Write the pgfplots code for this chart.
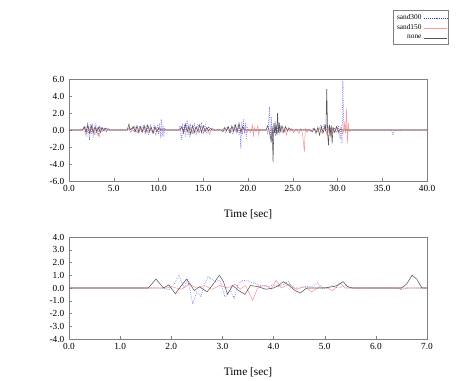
\documentclass[border=0pt]{standalone}
\usepackage{pgfplots}
\pgfplotsset{compat=1.18}
\usepackage{fontspec}
\setmainfont{Liberation Serif}
\definecolor{sthree}{RGB}{50,50,235}
\definecolor{sone}{RGB}{250,150,150}
\definecolor{nonec}{RGB}{85,85,85}
\begin{document}
\begin{tikzpicture}
\path[use as bounding box] (0pt,0pt) rectangle (355.5pt,-285.75pt);
\pgfplotsset{myax/.style={scale only axis, width=268.5pt, height=76.5pt, anchor=south west,
  axis line style={gray}, tick align=inside, xtick pos=bottom, ytick pos=left,
  major tick length=2.5pt, tick style={gray},
  tick label style={font=\fontsize{7}{8}\selectfont},
  label style={font=\fontsize{8.5}{9}\selectfont},
  /pgf/number format/assume math mode=true,
  xticklabel style={/pgf/number format/fixed, /pgf/number format/fixed zerofill, /pgf/number format/precision=1},
  yticklabel style={/pgf/number format/fixed, /pgf/number format/fixed zerofill, /pgf/number format/precision=1},
  xlabel={Time [sec]}, xlabel style={yshift=-6.5pt},
  every axis plot/.append style={line width=0.4pt}}}
\begin{axis}[myax, at={(51.75pt,-135.75pt)},
  xmin=0, xmax=40, ymin=-6, ymax=6,
  xtick={0,5,...,40}, ytick={-6,-4,...,6},
  legend style={at={(1.0615,1.676)}, anchor=north east, draw=gray, font=\fontsize{5.5}{6}\selectfont,
    legend plot pos=right, legend cell align=right, row sep=-1.5pt, inner sep=1pt}]
\addplot[sthree, densely dotted] coordinates {(0,0) (1.5,0) (1.7,0.3) (1.8,-0.4) (1.9,0.6) (2.0,-0.8) (2.1,0.9) (2.2,-0.3) (2.3,-1.2) (2.4,0.7) (2.5,-0.5) (2.6,0.8) (2.7,-0.9) (2.8,0.3) (2.9,-0.6) (3.0,0.9) (3.1,-0.4) (3.2,0.3) (3.3,-0.7) (3.4,0.5) (3.5,-0.2) (3.6,0.2) (3.8,-0.1) (4.0,0.3) (4.2,-0.2) (4.4,0.2) (4.6,0) (6.5,0) (6.7,0.2) (6.9,-0.2) (7.1,0.3) (7.3,-0.3) (7.5,0.4) (7.7,-0.4) (7.9,0.5) (8.1,-0.3) (8.3,0.6) (8.5,-0.5) (8.7,0.4) (8.9,-0.6) (9.1,0.7) (9.3,-0.4) (9.5,0.5) (9.7,-0.7) (9.9,0.6) (10.0,-0.5) (10.1,0.8) (10.2,-0.9) (10.3,1.3) (10.4,-0.8) (10.5,0.6) (10.6,-0.8) (10.7,0.2) (10.8,0) (12.3,0) (12.4,0.5) (12.5,-0.6) (12.6,-1.2) (12.7,0.8) (12.8,-0.5) (12.9,0.6) (13.0,-0.8) (13.1,0.4) (13.2,1.2) (13.3,-0.6) (13.4,0.7) (13.5,-0.9) (13.6,0.5) (13.8,-0.4) (14.0,0.8) (14.2,-0.6) (14.4,0.7) (14.6,-0.3) (14.8,0.9) (15.0,-0.5) (15.2,0.6) (15.4,-0.3) (15.6,0.4) (15.8,-0.2) (16.0,0.2) (16.3,-0.1) (16.6,0.1) (17.0,0) (17.3,0.2) (17.5,-0.3) (17.7,0.4) (17.9,-0.4) (18.1,0.3) (18.3,-0.5) (18.5,0.5) (18.7,-0.3) (18.9,0.7) (19.0,-0.6) (19.1,0.5) (19.2,-2.2) (19.3,0.9) (19.4,-0.5) (19.5,1.3) (19.6,-0.4) (19.7,0.8) (19.8,-1.0) (19.9,0.3) (20.0,0) (22.1,0) (22.2,-0.5) (22.3,1.0) (22.4,2.7) (22.5,-1.5) (22.6,1.5) (22.7,-0.8) (22.8,0.6) (22.9,-0.4) (23.0,1.0) (23.1,-0.7) (23.2,0.5) (23.3,-0.3) (23.4,0.8) (23.5,-0.5) (23.6,0.4) (23.8,-0.3) (24.0,0.3) (24.2,-0.2) (24.4,0.1) (24.6,0) (27.0,0) (27.3,0.2) (27.6,-0.2) (27.9,0.3) (28.1,0.5) (28.3,-0.3) (28.5,0.6) (28.7,-0.2) (28.9,0.4) (29.1,-0.5) (29.3,0.3) (29.5,-0.2) (29.7,0.3) (29.9,-0.2) (30.1,0.4) (30.3,-1.1) (30.4,0.6) (30.5,-1.6) (30.6,5.8) (30.7,0.3) (30.8,0) (36.0,0) (36.1,-0.2) (36.2,-0.6) (36.3,-0.1) (36.4,0) (36.6,-0.1) (36.8,0) (37.0,-0.1) (37.2,0) (40,0)};
\addlegendentry{sand300}
\addplot[sone] coordinates {(0,0) (1.6,0) (1.8,0.3) (2.0,-0.4) (2.2,0.4) (2.4,-0.3) (2.6,0.5) (2.8,-0.4) (3.0,0.3) (3.2,-0.5) (3.4,-0.8) (3.5,0.3) (3.7,-0.2) (3.9,0.2) (4.1,-0.1) (4.3,0) (6.6,0) (6.8,0.3) (7.0,-0.2) (7.3,0.4) (7.6,-0.3) (7.9,0.3) (8.2,-0.3) (8.5,0.4) (8.8,-0.3) (9.1,0.3) (9.4,-0.2) (9.7,0.3) (10.0,-0.3) (10.3,0.2) (10.6,0) (12.4,0) (12.6,0.3) (12.8,-0.3) (13.0,0.4) (13.3,-0.3) (13.6,0.3) (13.9,-0.4) (14.2,0.3) (14.5,-0.3) (14.8,0.4) (15.1,-0.2) (15.4,0.3) (15.7,-0.5) (16.0,0.2) (16.3,-0.1) (16.6,0) (17.5,0) (17.8,0.2) (18.1,-0.3) (18.4,0.3) (18.7,-0.3) (19.0,0.4) (19.3,-0.2) (19.6,0.3) (19.9,-0.3) (20.1,0.1) (20.3,-0.3) (20.5,0.6) (20.6,-0.8) (20.7,0.3) (20.9,-0.2) (21.1,0.5) (21.2,-0.6) (21.3,0.1) (21.5,0) (22.4,0) (22.6,0.3) (22.8,-0.4) (23.0,0.3) (23.3,-0.3) (23.6,0.4) (23.9,-0.3) (24.1,0.2) (24.3,-0.6) (24.5,0.3) (24.7,-0.2) (24.9,0.2) (25.1,-0.3) (25.4,0.1) (25.7,-0.4) (25.9,0.2) (26.1,-0.5) (26.3,-2.6) (26.4,0.2) (26.6,-0.3) (26.8,0.1) (27.0,-0.2) (27.2,0) (27.5,0.1) (27.8,-0.2) (28.0,0.2) (28.3,-0.4) (28.6,0.3) (28.8,-0.5) (29.0,0.3) (29.2,-0.8) (29.4,0.2) (29.6,-0.3) (29.9,0.4) (30.1,-0.4) (30.4,0.3) (30.6,-0.5) (30.8,0.8) (30.9,-0.4) (31.0,2.5) (31.1,-1.6) (31.2,0.8) (31.3,-0.2) (31.5,0) (40,0)};
\addlegendentry{sand150}
\addplot[nonec] coordinates {(0,0) (1.5,0) (1.7,0.4) (1.9,-0.3) (2.1,0.6) (2.3,-0.4) (2.5,0.5) (2.7,-0.3) (2.9,0.4) (3.1,-0.2) (3.3,0.3) (3.5,-0.3) (3.7,0.3) (3.9,-0.1) (4.1,0.2) (4.4,0) (6.5,0) (6.7,0.7) (6.8,0) (7.2,0.4) (7.4,-0.2) (7.6,0.5) (7.8,-0.3) (8.0,0.4) (8.2,-0.2) (8.4,0.5) (8.6,-0.3) (8.8,0.6) (9.0,-0.2) (9.2,0.3) (9.4,-0.4) (9.6,0.4) (9.8,-0.2) (10.0,0.2) (10.3,0) (12.4,0) (12.6,0.4) (12.8,-0.3) (13.0,0.7) (13.2,-0.2) (13.4,0.4) (13.6,-0.5) (13.8,0.5) (14.0,-0.3) (14.2,0.4) (14.4,-0.2) (14.6,0.6) (14.8,-0.3) (15.0,0.5) (15.2,-0.2) (15.4,0.3) (15.6,-0.1) (15.8,0.2) (16.0,0) (17.0,0) (17.2,-0.2) (17.4,0.3) (17.6,-0.1) (17.8,0.4) (18.0,-0.3) (18.2,0.5) (18.4,-0.2) (18.6,0.6) (18.8,-0.2) (19.0,0.8) (19.2,-0.3) (19.4,0.4) (19.6,0) (22.0,0) (22.2,0.5) (22.4,-0.3) (22.6,-1.3) (22.7,0.4) (22.8,-3.8) (22.9,0.8) (23.0,-0.4) (23.1,0.6) (23.2,-0.5) (23.3,2.0) (23.4,-0.3) (23.5,0.7) (23.6,-0.2) (23.8,0.5) (24.0,-0.3) (24.2,0.4) (24.4,-0.1) (24.6,0.2) (24.8,0) (27.0,0) (27.2,-0.2) (27.4,0.2) (27.6,-0.4) (27.8,0.3) (28.0,-0.6) (28.2,0.4) (28.4,-0.3) (28.6,0.5) (28.7,-0.2) (28.8,4.8) (28.9,-0.5) (29.0,-1.8) (29.1,0.6) (29.2,-0.4) (29.3,0.5) (29.4,-1.6) (29.5,0.3) (29.7,-0.3) (29.9,0.4) (30.1,-0.2) (30.3,0.1) (30.5,0) (40,0)};
\addlegendentry{none}
\end{axis}
\begin{axis}[myax, at={(51.75pt,-254.25pt)},
  xmin=0, xmax=7, ymin=-4, ymax=4,
  xtick={0,1,...,7}, ytick={-4,-3,...,4}]
\addplot[sthree, densely dotted] coordinates {(0,0) (1.85,0) (1.95,-0.15) (2.05,0.3) (2.15,1.0) (2.25,0.0) (2.32,0.7) (2.42,-1.25) (2.5,-0.3) (2.58,-0.7) (2.65,0.3) (2.72,0.9) (2.85,0.5) (2.95,0.6) (3.05,-0.7) (3.15,-0.1) (3.23,-0.8) (3.3,0.2) (3.38,0.6) (3.5,0.55) (3.6,0.4) (3.75,0.2) (3.9,0.1) (4.0,0.25) (4.1,0.1) (4.2,0.3) (4.29,0.5) (4.38,0.0) (4.5,0.0) (4.6,0.1) (4.75,0.1) (4.86,0.4) (4.95,0.0) (5.05,0.0) (5.15,0.2) (5.25,0.0) (5.35,0.1) (5.42,0.2) (5.5,0) (6.4,0) (6.5,-0.15) (6.6,0) (7,0)};
\addplot[sone] coordinates {(0,0) (1.9,0) (2.0,0.1) (2.2,-0.1) (2.35,0.3) (2.5,0.0) (2.65,0.2) (2.8,-0.1) (2.95,0.2) (3.1,0.0) (3.25,0.3) (3.35,-0.1) (3.45,0.2) (3.59,-0.95) (3.7,0.1) (3.85,0.2) (3.95,-0.1) (4.05,0.6) (4.15,0.0) (4.3,0.3) (4.45,-0.1) (4.6,0.1) (4.75,-0.3) (4.9,0.1) (5.05,0.0) (5.15,-0.2) (5.3,0.4) (5.4,0.0) (5.5,0) (7,0)};
\addplot[nonec] coordinates {(0,0) (1.55,0) (1.70,0.7) (1.85,0) (1.95,0.25) (2.08,-0.45) (2.2,0.2) (2.3,0.7) (2.45,-0.2) (2.55,0.1) (2.7,-0.3) (2.8,0.2) (2.94,1.0) (3.02,0.5) (3.1,-0.5) (3.2,0.2) (3.32,-0.2) (3.44,-0.5) (3.55,0.2) (3.7,0.1) (3.85,-0.1) (4.0,0.0) (4.1,0.2) (4.19,0.5) (4.3,0.2) (4.42,-0.2) (4.52,-0.4) (4.65,0.0) (4.8,0.0) (5.0,0.0) (5.15,0.1) (5.25,0.2) (5.36,0.5) (5.45,0.1) (5.55,0) (6.5,0) (6.6,0.3) (6.71,1.0) (6.8,0.7) (6.9,0) (7,0)};
\end{axis}
\end{tikzpicture}
\end{document}
